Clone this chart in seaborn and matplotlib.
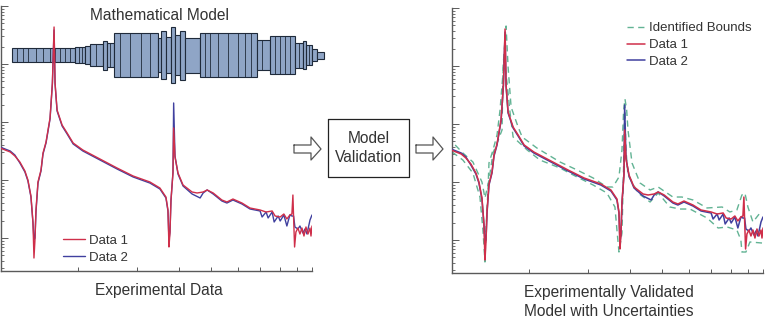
import numpy as np
import pandas as pd
import matplotlib
matplotlib.use("Agg")
import matplotlib.pyplot as plt
from matplotlib.ticker import LogLocator, NullFormatter, FixedLocator
import seaborn as sns

# log10 frequency / log10 magnitude
d1_lf = [.069,.084,.099,.113,.128,.143,.152,.161,.167,.170,.173,.176,.182,.191,.197,.206,.218,.225,.230,.233,.239,.254,.269,.287,.316,.367,.418,.466,.516,.546,.564,.570,.573,.576,.579,.585,.587,.591,.600,.615,.642,.657,.675,.687,.705,.731,.746,.764,.791,.815,.845,.863,.881,.890,.905,.916,.925,.934,.940,.943,.945,.948,.952,.958,.964,.970,.976,.982,.988,.994,.997,1.0]
d1_lm = [-1.448,-1.483,-1.517,-1.586,-1.690,-1.845,-2.0,-2.276,-2.724,-3.345,-3.034,-2.517,-2.034,-1.828,-1.534,-1.345,-.931,-.328,.638,-.328,-.793,-1.052,-1.190,-1.362,-1.483,-1.638,-1.793,-1.931,-2.034,-2.138,-2.293,-2.517,-3.155,-2.914,-2.345,-1.879,-1.103,-1.603,-1.879,-2.086,-2.207,-2.224,-2.207,-2.172,-2.224,-2.345,-2.379,-2.328,-2.397,-2.483,-2.517,-2.552,-2.534,-2.621,-2.638,-2.586,-2.672,-2.603,-2.586,-2.259,-2.638,-3.155,-2.897,-2.828,-2.931,-2.828,-2.966,-2.810,-2.931,-2.828,-2.966,-2.793]
d2_lf = [.069,.084,.099,.113,.128,.143,.152,.161,.167,.170,.173,.176,.182,.191,.197,.206,.218,.225,.230,.233,.239,.254,.269,.287,.316,.367,.418,.466,.516,.546,.564,.570,.573,.576,.579,.585,.587,.591,.600,.615,.642,.666,.675,.687,.705,.731,.746,.764,.791,.815,.845,.851,.863,.869,.881,.887,.899,.905,.916,.925,.934,.940,.945,.949,.958,.964,.973,.979,.985,.994,1.0]
d2_lm = [-1.431,-1.466,-1.5,-1.569,-1.707,-1.862,-2.017,-2.293,-2.741,-3.034,-3.0,-2.552,-2.052,-1.845,-1.552,-1.362,-.948,-.345,.586,-.345,-.81,-1.069,-1.207,-1.379,-1.5,-1.655,-1.81,-1.948,-2.052,-2.155,-2.31,-2.534,-3.034,-2.897,-2.362,-1.862,-.672,-1.586,-1.897,-2.103,-2.241,-2.31,-2.224,-2.172,-2.241,-2.362,-2.397,-2.345,-2.414,-2.5,-2.534,-2.638,-2.552,-2.655,-2.552,-2.724,-2.621,-2.707,-2.603,-2.793,-2.603,-2.621,-2.621,-2.81,-2.845,-2.793,-2.914,-2.845,-2.931,-2.69,-2.603]
up_lf = [.081,.104,.134,.161,.170,.182,.194,.206,.221,.224,.233,.239,.248,.269,.281,.325,.394,.445,.493,.534,.552,.570,.579,.584,.588,.593,.597,.609,.633,.663,.687,.731,.758,.791,.833,.878,.901,.922,.937,.946,.955,.970,.991]
up_lm = [-1.362,-1.5,-1.655,-2.0,-2.276,-1.966,-1.5,-1.328,-1.103,-.017,.69,-.017,-.707,-1.052,-1.224,-1.414,-1.655,-1.793,-1.931,-2.086,-2.086,-1.914,-1.448,-.759,-.569,-.759,-1.103,-1.672,-2.017,-2.138,-2.086,-2.259,-2.259,-2.31,-2.448,-2.431,-2.517,-2.483,-2.224,-2.19,-2.431,-2.69,-2.534]
lo_lf = [.072,.104,.134,.155,.164,.170,.173,.179,.182,.194,.206,.215,.227,.236,.245,.254,.296,.334,.394,.445,.493,.534,.558,.564,.570,.579,.584,.587,.591,.597,.627,.663,.687,.722,.752,.782,.833,.866,.893,.922,.934,.937,.949,.961,.997]
lo_lm = [-1.483,-1.621,-1.845,-2.259,-2.828,-3.379,-2.828,-2.138,-1.672,-1.448,-1.19,-.759,.103,-.293,-.81,-1.224,-1.448,-1.621,-1.759,-1.914,-2.052,-2.19,-2.431,-2.828,-3.207,-2.879,-1.707,-.672,-1.448,-1.879,-2.19,-2.345,-2.19,-2.431,-2.466,-2.466,-2.621,-2.793,-2.776,-2.828,-3.0,-3.207,-3.207,-3.034,-3.052]

# rotor schematic: section start, section end, half height
sec_start = [12,75,85,90,103,106.5,114,157.5,161,166,171,175,180,185,200,257,270,295,303,306,312,317]
sec_end   = [75,85,90,103,106.5,114,157.5,161,166,171,175,180,185,200,257,270,295,303,306,312,317,324]
sec_half  = [7.3,8.3,9.3,11,14.5,12,21.7,17,24,18,28,20,24.5,17.5,21.7,15,19,12.5,14,10,6,3.5]
sec_lines = [17,23,28,36,43,50,55,60,65,70,79,82,96,110,120,130,141,150,205,210,218,228,238,245,251,262,275,280,285,290,299,309]

RED, BLUE, GREEN = "#cf2f4a", "#40409f", "#62b394"
GREY, TXT = "#5a5a5a", "#333333"

sns.set_theme(style="ticks", rc={"axes.facecolor": "none"})
plt.rcParams["font.family"] = ["Liberation Sans", "DejaVu Sans"]

W, H = 768, 321
fig = plt.figure(figsize=(W/100, H/100), dpi=100, facecolor="white")

bg = fig.add_axes([0, 0, 1, 1], zorder=0)
bg.set_xlim(0, W); bg.set_ylim(H, 0); bg.axis("off")

yc = 55
for s, e, h in zip(sec_start, sec_end, sec_half):
    bg.bar(s, 2*h, width=e-s, bottom=yc-h, align="edge", color="#8fa5c6", edgecolor="#1f2a3a", linewidth=0.8)
for x in sec_lines:
    h = sec_half[np.searchsorted(sec_end, x)]
    bg.plot([x, x], [yc-h, yc+h], color="#1f2a3a", lw=0.6)

bg.plot([328, 409, 409, 328, 328], [119, 119, 177, 177, 119], color="#222222", lw=0.9)
for x0 in (294, 416):
    bg.plot(np.array([0, 17, 17, 27, 17, 17, 0, 0]) + x0,
            [145, 145, 137, 149, 160, 153, 153, 145], color="#555555", lw=0.9)

bg.text(369, 148, "Model\nValidation", ha="center", va="center", fontsize=11.2, color=TXT, linespacing=1.35)
bg.text(159, 16, "Mathematical Model", ha="center", va="center", fontsize=11.2, color=TXT)
bg.text(158.5, 291, "Experimental Data", ha="center", va="center", fontsize=11.2, color=TXT)
bg.text(609, 302, "Experimentally Validated\nModel with Uncertainties", ha="center", va="center",
        fontsize=11.2, color=TXT, linespacing=1.3)


def panel(left, top, width):
    ax = fig.add_axes([left/W, 1-(top+265)/H, width/W, 265/H], zorder=2)
    ax.set_xscale("log"); ax.set_yscale("log")
    ax.set_xlim(10**.0716, 10); ax.set_ylim(10**-3.569, 10**1.0)
    sns.despine(ax=ax)
    for s in ("left", "bottom"):
        ax.spines[s].set_color(GREY); ax.spines[s].set_linewidth(1.0)
    ax.xaxis.set_major_locator(FixedLocator([2, 3, 4, 5, 6, 7, 8, 9, 10]))
    ax.xaxis.set_minor_locator(FixedLocator([]))
    ax.yaxis.set_major_locator(LogLocator(base=10, numticks=10))
    ax.yaxis.set_minor_locator(LogLocator(base=10, subs=np.arange(2, 10)*1.0, numticks=10))
    ax.xaxis.set_major_formatter(NullFormatter())
    ax.yaxis.set_major_formatter(NullFormatter()); ax.yaxis.set_minor_formatter(NullFormatter())
    ax.tick_params(axis="x", which="major", direction="in", length=3, width=0.7, color=GREY)
    ax.tick_params(axis="y", which="major", direction="in", length=5, width=0.7, color=GREY)
    ax.tick_params(axis="y", which="minor", direction="in", length=2.5, width=0.6, color=GREY)
    return ax


def curve(ax, lf, lm, label, **kw):
    df = pd.DataFrame({"f": 10**np.array(lf), "m": 10**np.array(lm)})
    sns.lineplot(data=df, x="f", y="m", ax=ax, estimator=None, sort=False, label=label, **kw)


LEG = dict(frameon=False, fontsize=9.5, handletextpad=0.35, labelspacing=0.35,
           labelcolor=TXT, borderaxespad=0, borderpad=0.3)

axL = panel(1, 6, 311)
curve(axL, d2_lf, d2_lm, "Data 2", color=BLUE, lw=1.0, zorder=3)
curve(axL, d1_lf, d1_lm, "Data 1", color=RED, lw=1.0, zorder=4)
axL.set_xlabel(""); axL.set_ylabel("")
h, l = axL.get_legend_handles_labels()
axL.legend(h[::-1], l[::-1], loc="lower left", bbox_to_anchor=(0.188, 0.012),
           handlelength=1.6, **LEG)

axR = panel(452, 8, 311)
dash = (0, (4.5, 3.2))
curve(axR, up_lf, up_lm, "Identified Bounds", color=GREEN, lw=1.0, linestyle=dash, zorder=2)
curve(axR, lo_lf, lo_lm, None, color=GREEN, lw=1.0, linestyle=dash, zorder=2)
curve(axR, d2_lf, d2_lm, "Data 2", color=BLUE, lw=1.1, zorder=3)
curve(axR, d1_lf, d1_lm, "Data 1", color=RED, lw=1.1, zorder=4)
axR.set_xlabel(""); axR.set_ylabel("")
h, l = axR.get_legend_handles_labels()
order = [l.index("Identified Bounds"), l.index("Data 1"), l.index("Data 2")]
axR.legend([h[i] for i in order], [l[i] for i in order], loc="upper left", bbox_to_anchor=(0.55, 0.962),
           handlelength=1.35, **LEG)

fig.savefig("out.png", dpi=100)
